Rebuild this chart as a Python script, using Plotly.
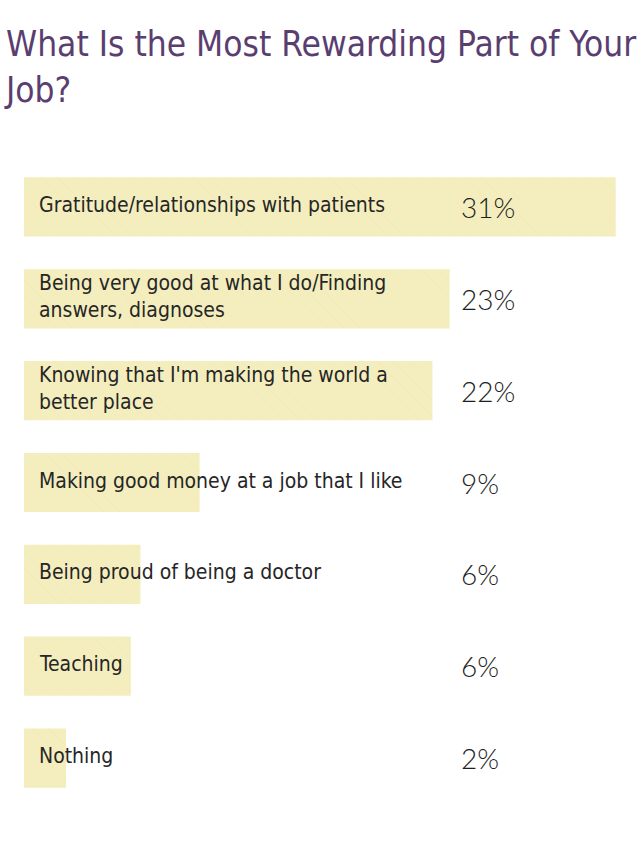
import plotly.graph_objects as go

categories = [
    "Gratitude/relationships with patients",
    "Being very good at what I do/Finding<br>answers, diagnoses",
    "Knowing that I'm making the world a<br>better place",
    "Making good money at a job that I like",
    "Being proud of being a doctor",
    "Teaching",
    "Nothing",
]
values = [31.0, 22.3, 21.4, 9.2, 6.1, 5.6, 2.2]
pct_labels = ["31%", "23%", "22%", "9%", "6%", "6%", "2%"]

title_text = "What Is the Most Rewarding Part of Your<br>Job?"

COND = "Liberation Sans Narrow, DejaVu Sans Condensed, Roboto, sans-serif"

fig = go.Figure()
fig.add_trace(go.Bar(
    x=values,
    y=list(range(len(categories))),
    orientation="h",
    marker=dict(
        color="#f4eebe",
        line=dict(width=0),
        pattern=dict(shape="\\", fgcolor="#e3dcae", size=12, solidity=0.06, fgopacity=0.35),
    ),
    hoverinfo="skip",
))

W, H = 640, 849
ml, mr, mt, mb = 24, 0, 161, 45
pw = W - ml - mr
ph = H - mt - mb

annotations = [dict(
    x=(6 - ml) / pw, y=1 + (mt - 22) / ph, xref="paper", yref="paper",
    text=title_text, showarrow=False, xanchor="left", yanchor="top", align="left",
    xshift=-4, font=dict(family=COND, size=35, color="#5b3e70"),
)]
for i, (c, p) in enumerate(zip(categories, pct_labels)):
    annotations.append(dict(
        x=0, y=i, xref="x", yref="y", text=c, showarrow=False,
        xanchor="left", yanchor="middle", xshift=13, yshift=2, align="left",
        font=dict(family=COND, size=21, color="#262626"),
    ))
    annotations.append(dict(
        x=(458.5 - ml) / pw, y=i, xref="paper", yref="y", text=p, showarrow=False,
        xanchor="left", yanchor="middle",
        font=dict(family="Lato, Open Sans, sans-serif", size=28, color="#1e1e1e", weight=300),
    ))

fig.update_layout(
    width=W, height=H,
    margin=dict(l=ml, r=mr, t=mt, b=mb),
    paper_bgcolor="white", plot_bgcolor="white",
    bargap=0.355,
    showlegend=False,
    xaxis=dict(range=[0, 31 * pw / 591.7], visible=False, fixedrange=True),
    yaxis=dict(range=[len(categories) - 0.5, -0.5], visible=False, fixedrange=True),
    annotations=annotations,
)

fig.write_html("out.html")
